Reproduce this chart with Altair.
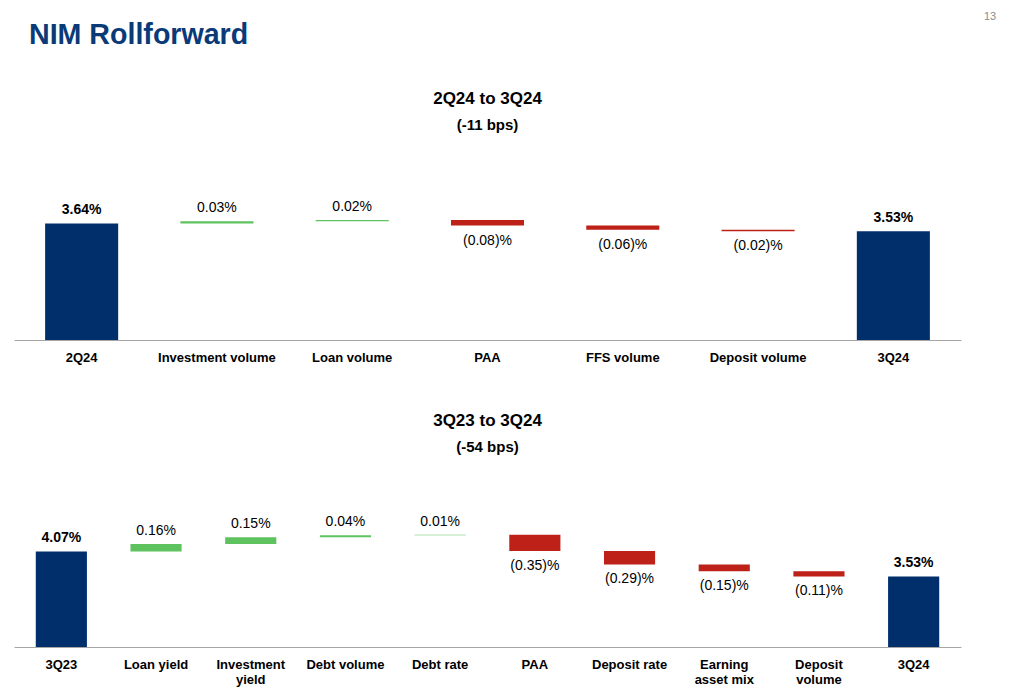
import altair as alt
import pandas as pd

title_text = "NIM Rollforward"
page_number = "13"

top_title = "2Q24 to 3Q24"
top_subtitle = "(-11 bps)"
top_categories = ["2Q24", "Investment volume", "Loan volume", "PAA", "FFS volume", "Deposit volume", "3Q24"]
top_values = [3.64, 0.03, 0.02, -0.08, -0.06, -0.02, 3.53]
top_kinds = ["total", "delta", "delta", "delta", "delta", "delta", "total"]

bot_title = "3Q23 to 3Q24"
bot_subtitle = "(-54 bps)"
bot_categories = ["3Q23", "Loan yield", "Investment|yield", "Debt volume", "Debt rate", "PAA",
                  "Deposit rate", "Earning|asset mix", "Deposit|volume", "3Q24"]
bot_values = [4.07, 0.16, 0.15, 0.04, 0.01, -0.35, -0.29, -0.15, -0.11, 3.53]
bot_kinds = ["total", "delta", "delta", "delta", "delta", "delta", "delta", "delta", "delta", "total"]

NAVY = "#002F6C"
GREEN = "#5EC25F"
RED = "#BE2117"
TITLE_BLUE = "#0B3A78"
FONT = "Liberation Sans"


def build(cats, vals, kinds):
    rows = []
    level = 0.0
    for c, v, k in zip(cats, vals, kinds):
        if k == "total":
            start, end = 0.0, v
            level = v
            label = f"{v:.2f}%"
            kind = "total"
        else:
            start, end = level, level + v
            level = end
            label = f"{v:.2f}%" if v >= 0 else f"({-v:.2f})%"
            kind = "up" if v >= 0 else "down"
        rows.append(dict(cat=c, lo=min(start, end), hi=max(start, end), label=label, kind=kind))
    return pd.DataFrame(rows)


def panel(cats, vals, kinds, title, subtitle, ymin, ymax, height, offset):
    df = build(cats, vals, kinds)
    yscale = alt.Scale(domain=[ymin, ymax], zero=False, nice=False)
    x = alt.X("cat:N", sort=cats,
              scale=alt.Scale(paddingInner=0.46, paddingOuter=0.23),
              axis=alt.Axis(title=None, labelAngle=0, labelFont=FONT, labelFontSize=13,
                            labelFontWeight="bold", labelColor="#000000", labelPadding=11,
                            ticks=False, domainColor="#A6A6A6", domainWidth=1, grid=False,
                            labelExpr="split(datum.label, '|')", labelLineHeight=15))
    base = alt.Chart(df)
    bars = base.mark_bar(clip=True).encode(
        x=x,
        y=alt.Y("lo:Q", scale=yscale, axis=None),
        y2="hi:Q",
        color=alt.Color("kind:N", scale=alt.Scale(domain=["total", "up", "down"],
                                                  range=[NAVY, GREEN, RED]), legend=None),
    )
    tot = base.transform_filter("datum.kind == 'total'").mark_text(
        baseline="alphabetic", dy=-9, font=FONT, fontSize=14, fontWeight="bold", color="#000000"
    ).encode(x=x, y=alt.Y("hi:Q", scale=yscale, axis=None), text="label:N")
    up = base.transform_filter("datum.kind == 'up'").mark_text(
        baseline="alphabetic", dy=-9, font=FONT, fontSize=14, color="#000000"
    ).encode(x=x, y=alt.Y("hi:Q", scale=yscale, axis=None), text="label:N")
    down = base.transform_filter("datum.kind == 'down'").mark_text(
        baseline="top", dy=8, font=FONT, fontSize=14, color="#000000"
    ).encode(x=x, y=alt.Y("lo:Q", scale=yscale, axis=None), text="label:N")
    return alt.layer(bars, tot, up, down).properties(
        width=947, height=height,
        title=alt.TitleParams(text=title, subtitle=subtitle, font=FONT, fontSize=17,
                              fontWeight="bold", color="#000000", subtitleFont=FONT,
                              subtitleFontSize=15, subtitleFontWeight="bold",
                              subtitleColor="#000000", subtitlePadding=10,
                              anchor="middle", offset=offset),
    )


top = panel(top_categories, top_values, top_kinds, top_title, top_subtitle, 2.0, 3.9, 135, 66)
bottom = panel(bot_categories, bot_values, bot_kinds, bot_title, bot_subtitle, 2.0, 4.6, 120, 59)

header = alt.layer(
    alt.Chart(pd.DataFrame({"t": [title_text]})).mark_text(
        align="left", baseline="alphabetic", font=FONT, fontSize=28.6, fontWeight="bold",
        color=TITLE_BLUE
    ).encode(x=alt.value(15), y=alt.value(33), text="t:N"),
    alt.Chart(pd.DataFrame({"t": [page_number]})).mark_text(
        align="center", baseline="middle", font=FONT, fontSize=11, color="#8C8C8C"
    ).encode(x=alt.value(976), y=alt.value(6), text="t:N"),
).properties(width=947, height=43)

chart = alt.vconcat(
    header,
    alt.vconcat(top, bottom, spacing=46),
    spacing=34,
).properties(
    padding={"left": 5, "right": 5, "top": 2, "bottom": 0}
).configure_view(stroke="transparent")

chart.save("out.html", embed_options={"renderer": "svg", "actions": False})
